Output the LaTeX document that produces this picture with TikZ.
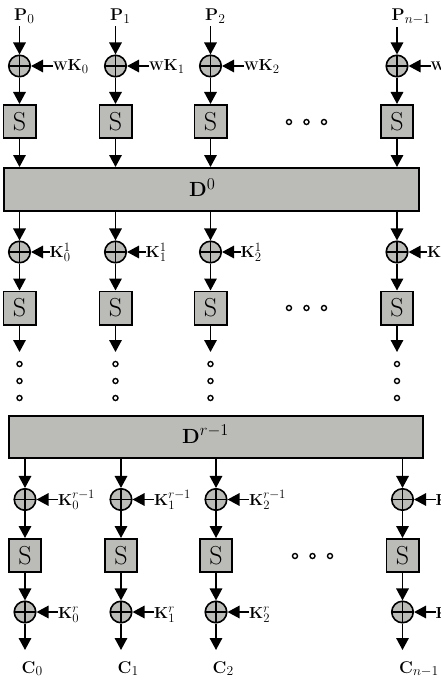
\RequirePackage{fix-cm}
\documentclass[tikz,border=0pt]{standalone}
\usetikzlibrary{arrows.meta}
\DeclareMathSizes{16}{16}{12.8}{10}
\DeclareMathSizes{17}{17}{13.6}{10.5}
\DeclareMathSizes{20.5}{20.5}{16.5}{13}
\definecolor{boxgray}{RGB}{187,188,184}
\newcommand{\smallW}{{\fontsize{12.5}{12.5}\selectfont\bfseries W}}
\tikzset{
  arr/.style={line width=1.6pt,-{Triangle[length=12pt,width=12.5pt]}},
  xorc/.style={circle,draw,line width=1.6pt,fill=boxgray,minimum size=21.5pt,inner sep=0pt,
    path picture={\draw[line width=1.6pt] (path picture bounding box.north) -- (path picture bounding box.south)
      (path picture bounding box.west) -- (path picture bounding box.east);}},
  sbox/.style={draw,line width=1.6pt,fill=boxgray,minimum width=32.4pt,minimum height=33.4pt,inner sep=0pt,
    font=\fontsize{26}{26}\selectfont},
  dbox/.style={draw,line width=1.6pt,fill=boxgray,inner sep=0pt},
  dotc/.style={circle,draw,line width=1.4pt,fill=white,minimum size=5pt,inner sep=0pt},
  lab/.style={inner sep=0pt,anchor=base west,font=\fontsize{16}{16}\selectfont},
  biglab/.style={inner sep=0pt,anchor=base west,font=\fontsize{17}{17}\selectfont},
  dlab/.style={inner sep=0pt,anchor=base west,font=\fontsize{20.5}{20.5}\selectfont},
}
\begin{document}
\begin{tikzpicture}[x=1pt,y=-1pt]
\useasboundingbox (0,0) rectangle (441,682);
% diffusion layers
\node[dbox,minimum width=415.4pt,minimum height=43.4pt] (d0) at (211.5,189.5) {};
\node[dlab] (d0l) at (189,196.5) {$\mathbf{D}^{0}$};
\node[dbox,minimum width=414.4pt,minimum height=42.4pt] (dr) at (216,437) {};
\node[dlab] (drl) at (182,443) {$\mathbf{D}^{r-1}$};
% columns
\foreach \i/\x/\sub in {0/19.5/0, 1/115.5/1, 2/210.5/2, 3/397/{n-1}} {
  % round 0
  \node[biglab] (p\i) at (\x-5.5,21) {$\mathbf{P}_{\sub}$};
  \node[xorc] (a\i) at (\x,66) {};
  \node[lab] (wk\i) at (\x+33.5,71) {\smallW$\mathbf{K}_{\sub}$};
  \node[sbox] (s\i) at (\x,121.5) {S};
  \draw[arr,shorten <=2pt] (p\i.south -| a\i) -- (a\i);
  \draw[arr] (a\i -| wk\i.west) -- (a\i.east);
  \draw[arr] (a\i) -- (s\i);
  \draw[arr] (s\i) -- (s\i |- d0.north);
  % round 1
  \node[xorc] (b\i) at (\x,252) {};
  \node[lab] (k\i) at (\x+30,257) {$\mathbf{K}^{1}_{\sub}$};
  \node[sbox] (t\i) at (\x,308) {S};
  \coordinate (e\i) at (\x,352);
  \draw[arr] (d0.south -| b\i) -- (b\i);
  \draw[arr] (b\i -| k\i.west) -- (b\i.east);
  \draw[arr] (b\i) -- (t\i);
  \draw[arr] (t\i) -- (e\i);
  \node[dotc] (v\i a) at (\x,364) {};
  \node[dotc] (v\i b) at (\x,381) {};
  \node[dotc] (v\i c) at (\x,398) {};
  % last rounds
  \node[xorc] (c\i) at (\x+5.5,499.5) {};
  \node[lab] (kr\i) at (\x+38.5,505) {$\mathbf{K}^{r-1}_{\sub}$};
  \node[sbox] (u\i) at (\x+5.5,555.5) {S};
  \node[xorc] (g\i) at (\x+5.5,612) {};
  \node[lab] (kk\i) at (\x+38.5,618) {$\mathbf{K}^{r}_{\sub}$};
  \coordinate (f\i) at (\x+5.5,650);
  \node[biglab] (o\i) at (\x+2,673) {$\mathbf{C}_{\sub}$};
  \draw[arr] (dr.south -| c\i) -- (c\i);
  \draw[arr] (c\i -| kr\i.west) -- (c\i.east);
  \draw[arr] (c\i) -- (u\i);
  \draw[arr] (u\i) -- (g\i);
  \draw[arr] (g\i -| kk\i.west) -- (g\i.east);
  \draw[arr] (g\i) -- (f\i);
}
% horizontal ellipses
\foreach \n/\y/\dx in {h1/122/0, h2/308/0, h3/556/6} {
  \node[dotc] (\n a) at (289+\dx,\y) {};
  \node[dotc] (\n b) at (306.5+\dx,\y) {};
  \node[dotc] (\n c) at (324+\dx,\y) {};
}
\end{tikzpicture}
\end{document}
